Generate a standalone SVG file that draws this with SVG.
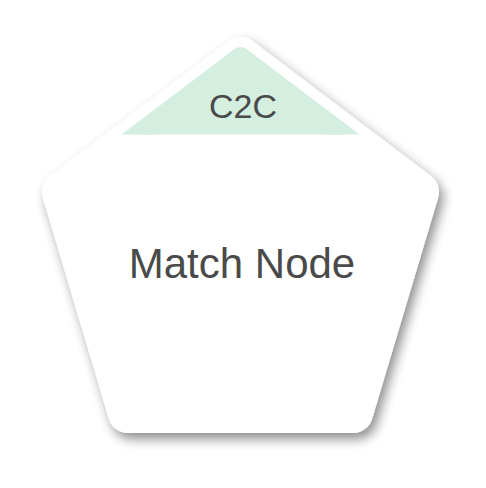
<svg xmlns="http://www.w3.org/2000/svg" width="486" height="488" viewBox="0 0 486 488">
  <defs>
    <filter id="shadow" x="-20%" y="-20%" width="140%" height="140%">
      <feGaussianBlur in="SourceAlpha" stdDeviation="6"/>
      <feOffset dx="4" dy="6" result="b"/>
      <feComponentTransfer><feFuncA type="linear" slope="0.45"/></feComponentTransfer>
      <feMerge><feMergeNode/><feMergeNode in="SourceGraphic"/></feMerge>
    </filter>
    <clipPath id="topClip"><rect x="0" y="0" width="486" height="134.5"/></clipPath>
    <style>
      .body { fill: #ffffff; stroke: #ffffff; stroke-width: 40; stroke-linejoin: round; }
      .band { fill: #d4eee0; stroke: #d4eee0; stroke-width: 20; stroke-linejoin: round; }
      .label { font-family: "Liberation Sans", Arial, sans-serif; fill: #4a4a4a; text-anchor: middle; }
    </style>
  </defs>
  <g id="match-node">
    <polygon class="body" filter="url(#shadow)" points="240.5,57 419,192 353,413 128,413 62,192"/>
    <polygon class="band" clip-path="url(#topClip)" points="240.5,57 419,192 353,413 128,413 62,192"/>
    <text class="label" x="243" y="118" font-size="34">C2C</text>
    <text class="label" x="242" y="278" font-size="42">Match Node</text>
  </g>
</svg>
